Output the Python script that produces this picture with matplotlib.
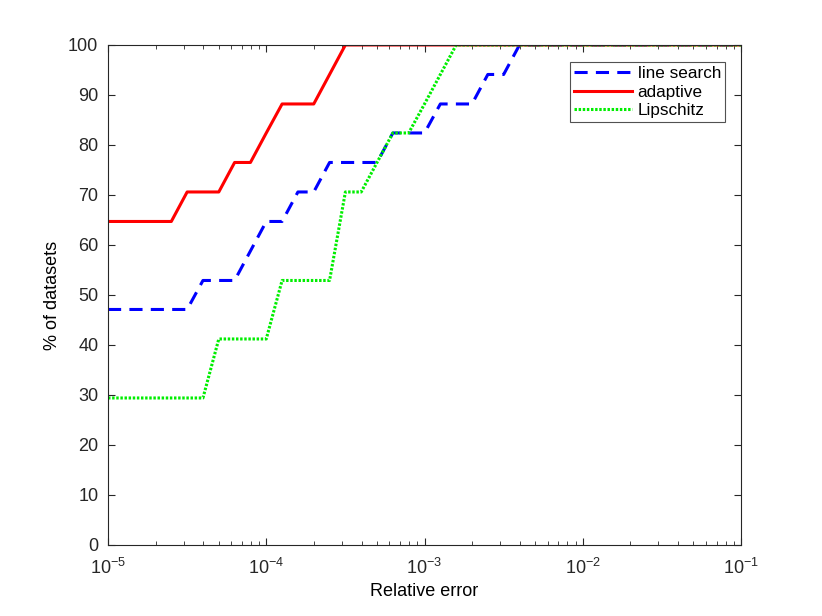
import matplotlib
matplotlib.use('Agg')
import matplotlib.pyplot as plt
import matplotlib.ticker as mticker
import numpy as np

# relative error grid: 41 points, 0.1 decade apart from 1e-5 to 1e-1
rel_error = np.logspace(-5, -1, 41)

line_search = [47.1] * 6 + [52.9] * 3 + [58.8] + [64.7] * 2 + [70.6] * 2 + [76.5] * 4 \
    + [82.4] * 3 + [88.2] * 3 + [94.1] * 2 + [100.0] * 15
adaptive = [64.7] * 5 + [70.6] * 3 + [76.5] * 2 + [82.4] + [88.2] * 3 + [94.1] + [100.0] * 26
lipschitz = [29.4] * 7 + [41.2] * 4 + [52.9] * 4 + [70.6] * 2 + [76.5] + [82.4] * 2 \
    + [88.2] + [94.1] + [100.0] * 19

plt.rcParams['font.family'] = ['Liberation Sans', 'DejaVu Sans']
plt.rcParams['axes.unicode_minus'] = False

fig = plt.figure(figsize=(8.22, 6.16), dpi=100)
ax = fig.add_axes([0.1314, 0.1153, 0.7701, 0.8117])

ax.plot(rel_error, line_search, color='#0000ff', linestyle=(0, (4.3, 2.7)), linewidth=2.2, label='line search')
ax.plot(rel_error, adaptive, color='#ff0000', linestyle='-', linewidth=2.2, label='adaptive')
ax.plot(rel_error, lipschitz, color='#00ee00', linestyle=(0, (0.8, 0.55)), linewidth=2.2, label='Lipschitz')

ax.set_xscale('log')
ax.set_xlim(1e-5, 1e-1)
ax.set_ylim(0, 100)
ax.set_yticks(range(0, 101, 10))
ax.xaxis.set_major_formatter(mticker.FuncFormatter(
    lambda v, p: r'$\mathregular{10^{%d}}$' % round(np.log10(v))))
ax.set_xlabel('Relative error', fontsize=13, labelpad=4)
ax.set_ylabel('% of datasets', fontsize=13, labelpad=5)

ax.tick_params(which='both', direction='in', top=True, right=True, labelsize=13, colors='#262626')
ax.tick_params(which='major', length=5)
ax.tick_params(which='minor', length=3)
ax.tick_params(axis='y', pad=7)
ax.tick_params(axis='x', pad=9)
for s in ax.spines.values():
    s.set_color('#262626')
    s.set_linewidth(0.8)

leg = ax.legend(loc='upper right', bbox_to_anchor=(0.975, 0.966), fontsize=12.3,
                frameon=True, fancybox=False, edgecolor='#262626', borderpad=0.25,
                handlelength=3.4, handletextpad=0.3, labelspacing=0.2, borderaxespad=0)
leg.get_frame().set_linewidth(0.8)

fig.savefig('out.png', dpi=100)
